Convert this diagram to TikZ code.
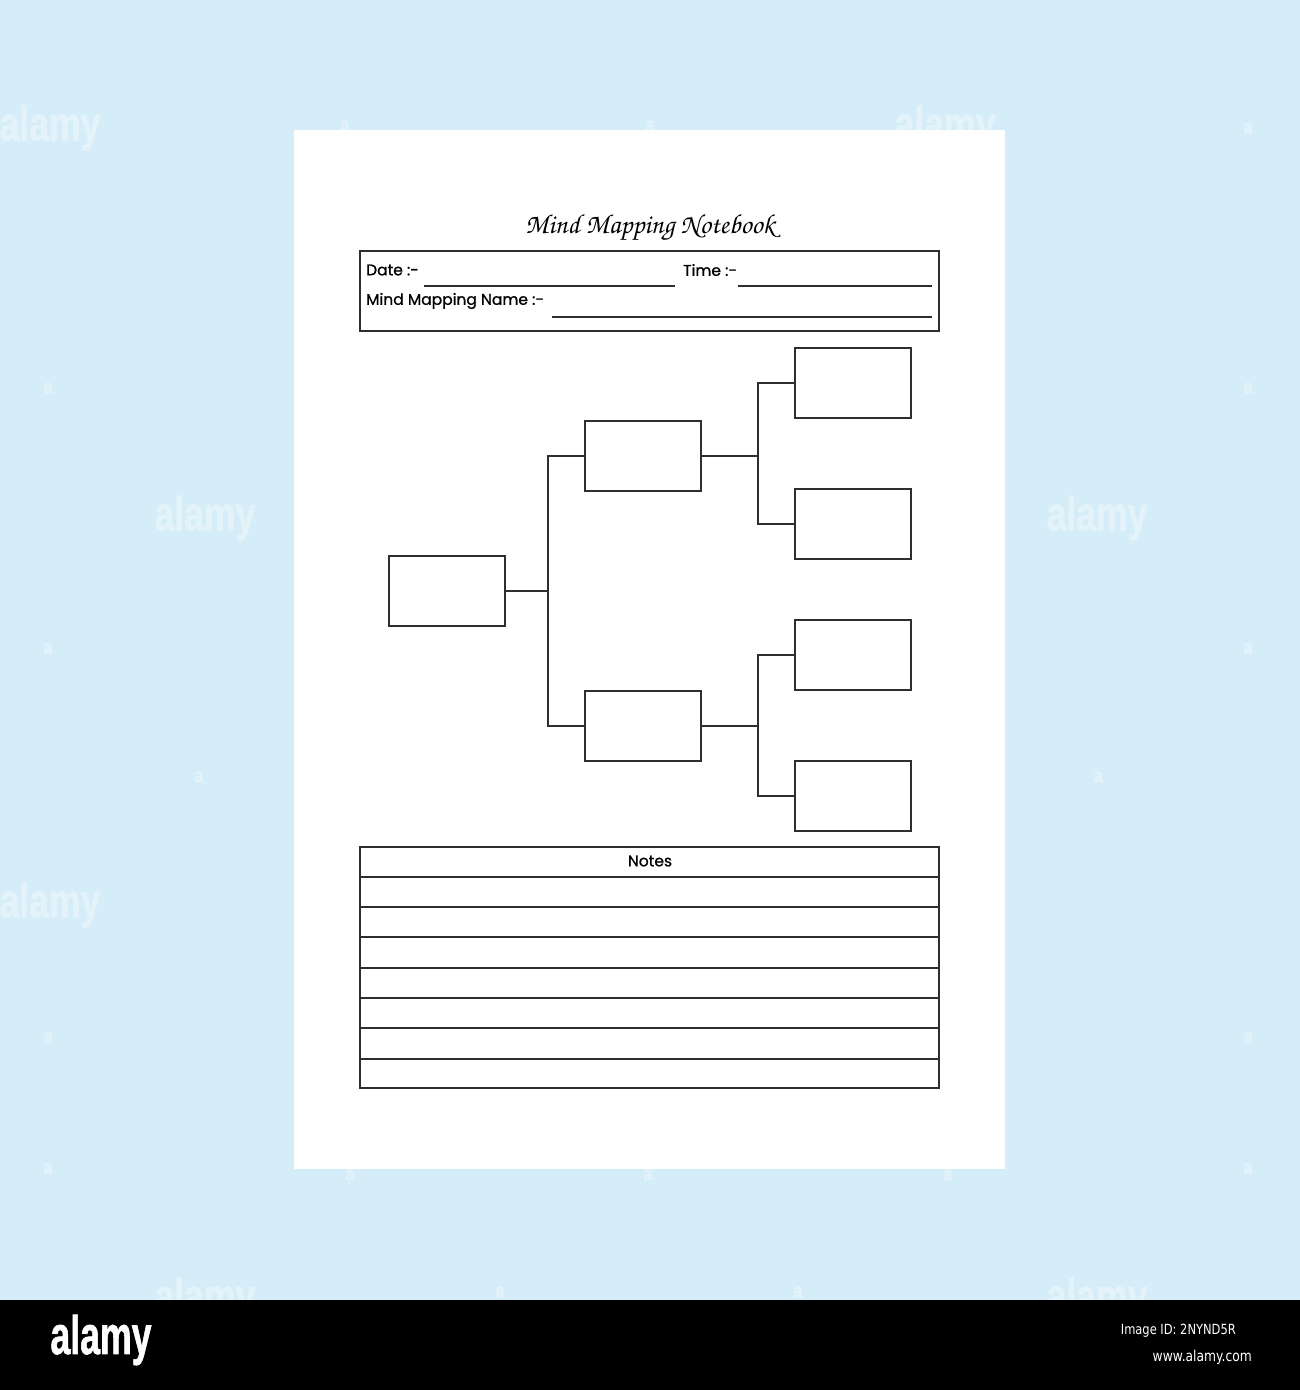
\documentclass[tikz,border=0pt]{standalone}
\usepackage{fontspec}
\setsansfont{Poppins}
\newfontfamily\formfont{Poppins}[FakeBold=0.9]
\newfontfamily\markfont{Liberation Sans}[FakeBold=1.5]
\newfontfamily\idfont{DejaVu Sans}
\definecolor{skyback}{HTML}{D4EDF8}
\definecolor{markwhite}{HTML}{E4F3FA}
\definecolor{inkgray}{HTML}{2E2E2E}
\newcommand{\scripttitle}{\fontencoding{T1}\fontfamily{pzc}\fontseries{m}\fontshape{it}\fontsize{27.5}{30}\selectfont}

\begin{document}
\begin{tikzpicture}[x=1pt,y=-1pt]
    \tikzstyle{every node}+=[inner sep=0pt]
    \tikzstyle{mapbox}=[draw=inkgray,line width=1.7pt,rectangle,minimum width=116pt,minimum height=70pt]
    \tikzstyle{link}=[draw=inkgray,line width=1.5pt]
    \tikzstyle{formtext}=[font=\formfont\fontsize{15.5}{17}\selectfont,anchor=west]
    \tikzstyle{bigmark}=[text=markwhite,font=\markfont\bfseries\fontsize{48}{48}\selectfont,xscale=0.74]
    \tikzstyle{smallmark}=[text=markwhite,font=\markfont\bfseries\fontsize{20}{20}\selectfont,xscale=0.8]
    \useasboundingbox (0,0) rectangle (1300,1390);
    % backdrop and watermarks
    \fill [skyback] (0,0) rectangle (1300,1300);
    \foreach \mx/\my [count=\mi] in {50/128, 945/128, 205/518, 1097/518, 50/905, 205/1300, 1097/1300}
        \node [bigmark] (mark\mi) at (\mx,\my) {alamy};
    \foreach \mx/\my [count=\mi] in {345/126, 650/126, 1248/128, 48/388, 1248/388, 48/648, 1248/648, 199/777, 1098/777, 48/1038, 1248/1038, 48/1168, 350/1175, 648/1175, 948/1175, 1248/1168, 500/1292, 798/1292}
        \node [smallmark] (dot\mi) at (\mx,\my) {a};
    \fill [black] (0,1300) rectangle (1300,1390);
    \node [text=white,font=\markfont\bfseries\fontsize{54}{54}\selectfont,xscale=0.66] (logo) at (101,1340) {alamy};
    \node [anchor=east,text=white,font=\idfont\fontsize{14}{14}\selectfont,xscale=0.82] (imageid) at (1236,1331) {Image ID: 2NYND5R};
    \node [anchor=east,text=white,font=\idfont\fontsize{15}{15}\selectfont,xscale=0.82] (siteurl) at (1252,1357) {www.alamy.com};
    % page
    \fill [white] (294,130) rectangle (1005,1169);
    \node (title) at (650,228) {\scripttitle Mind Mapping Notebook};
    % header form
    \draw [inkgray,line width=1.7pt] (360,251) rectangle (939,331);
    \node [formtext] (date) at (366,270) {Date :-};
    \node [formtext] (time) at (683,270) {Time :-};
    \node [formtext] (mapname) at (366,301) {Mind Mapping Name :-};
    \draw [inkgray,line width=1.4pt] (424,286) -- (675,286);
    \draw [inkgray,line width=1.4pt] (738,286) -- (932,286);
    \draw [inkgray,line width=1.4pt] (552,317) -- (932,317);
    % mind map
    \node [mapbox] (root) at (447,591) {};
    \node [mapbox] (upper) at (643,456) {};
    \node [mapbox] (lower) at (643,726) {};
    \node [mapbox] (leafa) at (853,383) {};
    \node [mapbox] (leafb) at (853,524) {};
    \node [mapbox] (leafc) at (853,655) {};
    \node [mapbox] (leafd) at (853,796) {};
    \coordinate (rootfork) at (548,591);
    \coordinate (upperfork) at (758,456);
    \coordinate (lowerfork) at (758,726);
    \draw [link] (root.east) -- (rootfork);
    \draw [link] (upper.west) -| (rootfork) |- (lower.west);
    \draw [link] (upper.east) -- (upperfork);
    \draw [link] (leafa.west) -| (upperfork) |- (leafb.west);
    \draw [link] (lower.east) -- (lowerfork);
    \draw [link] (leafc.west) -| (lowerfork) |- (leafd.west);
    % notes table
    \draw [inkgray,line width=1.7pt] (360,847) rectangle (939,1088);
    \node [formtext,anchor=center] (notes) at (650,861) {Notes};
    \foreach \ry in {877,907,937,968,998,1028,1059}
        \draw [inkgray,line width=1.5pt] (360,\ry) -- (939,\ry);
\end{tikzpicture}
\end{document}
